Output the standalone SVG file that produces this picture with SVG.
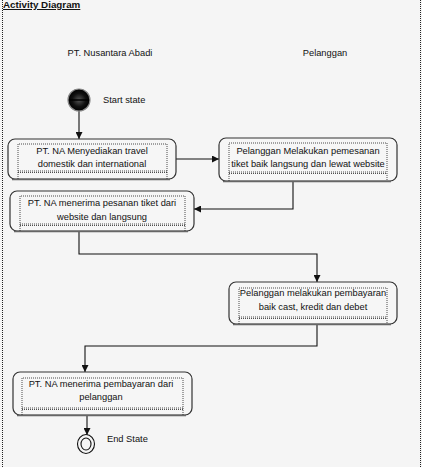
<svg xmlns="http://www.w3.org/2000/svg" width="422" height="467" viewBox="0 0 422 467">
<style>
text{font-family:"Liberation Sans",Arial,sans-serif;font-size:9.3px;fill:#111;}
.c{text-anchor:middle;}
.box{fill:#f6f6f6;stroke:#333;stroke-width:1.2;}
.shadow{fill:none;stroke:#666;stroke-width:1.5;}
.inner{fill:none;stroke:#222;stroke-width:0.8;stroke-dasharray:1 1;}
.conn{fill:none;stroke:#111;stroke-width:1.1;}
.border{stroke:#222;stroke-width:1;stroke-dasharray:1 1;}
</style>
<defs>
<marker id="arr" viewBox="0 0 10 10" refX="10" refY="5" markerWidth="7" markerHeight="7" orient="auto" markerUnits="userSpaceOnUse">
<path d="M0,0 L10,5 L0,10 z" fill="#111"/>
</marker>
<radialGradient id="ball" cx="0.5" cy="0.5" r="0.5">
<stop offset="0" stop-color="#555"/>
<stop offset="0.6" stop-color="#111"/>
<stop offset="1" stop-color="#000"/>
</radialGradient>
</defs>
<rect x="0" y="0" width="422" height="467" fill="#f5f5f5"/>
<line class="border" x1="2.5" y1="0" x2="2.5" y2="467"/>
<line class="border" x1="420.5" y1="0" x2="420.5" y2="467"/>
<g id="title">
<text x="3" y="8" style="font-weight:bold;font-size:9.8px;text-decoration:underline;">Activity Diagram</text>
</g>
<g id="lane-pt"><text class="c" x="110" y="56">PT. Nusantara  Abadi</text></g>
<g id="lane-pelanggan"><text class="c" x="325" y="56">Pelanggan</text></g>
<g id="connectors">
<line class="conn" x1="79" y1="111" x2="79" y2="139" marker-end="url(#arr)"/>
<line class="conn" x1="176" y1="159" x2="219" y2="159" marker-end="url(#arr)"/>
<polyline class="conn" points="293,181 293,209 194,209" marker-end="url(#arr)"/>
<polyline class="conn" points="79,231 79,254 317,254 317,282" marker-end="url(#arr)"/>
<polyline class="conn" points="317,324 317,346 85,346 85,372" marker-end="url(#arr)"/>
<line class="conn" x1="87" y1="415" x2="87" y2="435" marker-end="url(#arr)"/>
</g>
<g id="start">
<circle cx="79" cy="100" r="11" fill="url(#ball)" stroke="#888" stroke-width="1.2"/>
<path d="M69,100 H89" stroke="#000" stroke-width="1.5"/>
<text x="103" y="103">Start state</text>
</g>
<g id="n1">
<rect class="box" x="8" y="139" width="168" height="40" rx="7"/>
<path class="shadow" d="M12,179.5 H170"/>
<path class="inner" d="M18,179 V144 H167 V179 M18,171 H167 M18,172.5 H167"/>
<text class="c" x="92" y="154">PT. NA Menyediakan  travel</text>
<text class="c" x="92" y="167">domestik dan international</text>
</g>
<g id="n2">
<rect class="box" x="10" y="191" width="184" height="40" rx="7"/>
<path class="shadow" d="M14,231.5 H188"/>
<path class="inner" d="M20,231 V196 H185 V231 M20,224 H185 M20,225.5 H185"/>
<text class="c" x="102" y="206">PT. NA menerima pesanan tiket dari</text>
<text class="c" x="102" y="220">website dan langsung</text>
</g>
<g id="n3">
<rect class="box" x="219" y="138" width="178" height="43" rx="7"/>
<path class="shadow" d="M223,181.5 H391"/>
<path class="inner" d="M229,181 V143 H387 V181 M229,172 H387 M229,173.5 H387"/>
<text class="c" x="308" y="154">Pelanggan Melakukan pemesanan</text>
<text class="c" x="308" y="167">tiket baik langsung dan lewat website</text>
</g>
<g id="n4">
<rect class="box" x="229" y="282" width="168" height="42" rx="7"/>
<path class="shadow" d="M233,324.5 H391"/>
<path class="inner" d="M239,324 V288 H387 V324 M239,317 H387 M239,318.5 H387"/>
<text class="c" x="313" y="296">Pelanggan melakukan pembayaran</text>
<text class="c" x="313" y="310">baik cast, kredit dan debet</text>
</g>
<g id="n5">
<rect class="box" x="13" y="372" width="179" height="43" rx="7"/>
<path class="shadow" d="M17,415.5 H186"/>
<path class="inner" d="M22,415 V378 H183 V415 M22,408 H183 M22,409.5 H183"/>
<text class="c" x="101" y="387">PT. NA menerima pembayaran dari</text>
<text class="c" x="101" y="400">pelanggan</text>
</g>
<g id="end">
<ellipse cx="86" cy="444" rx="8.5" ry="9.5" fill="#f5f5f5" stroke="#111" stroke-width="1.1"/>
<ellipse cx="86" cy="444" rx="5" ry="6" fill="none" stroke="#111" stroke-width="1.1"/>
<text x="107" y="442">End State</text>
</g>
</svg>
